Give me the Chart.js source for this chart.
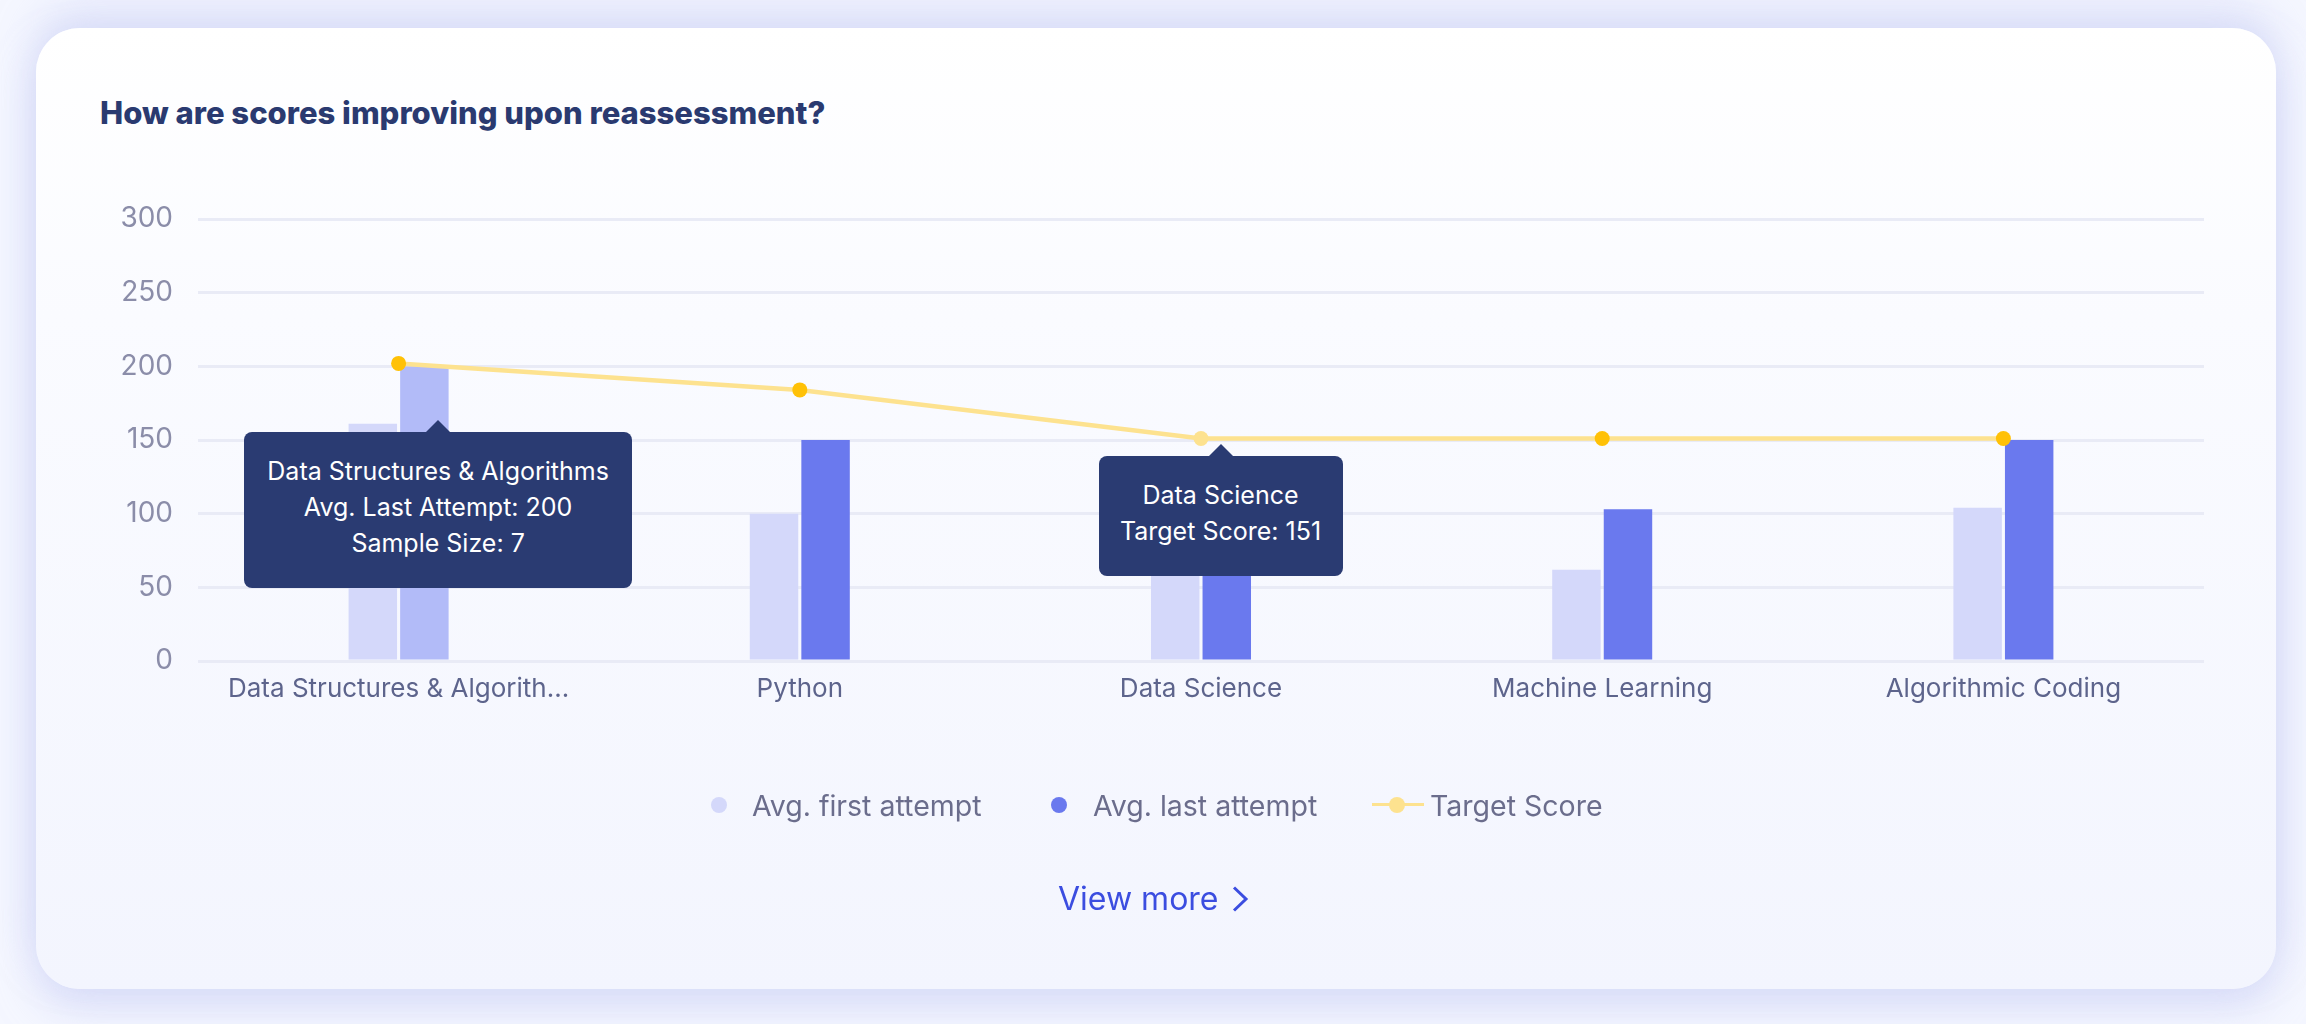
<!DOCTYPE html>
<html>
<head>
<meta charset="utf-8">
<title>How are scores improving upon reassessment?</title>
<script src="https://cdn.jsdelivr.net/npm/chart.js@4"></script>
<style>
  html, body { margin: 0; width: 2306px; height: 1024px; overflow: hidden; background: #f5f7ff; font-family: Inter, sans-serif; }
  #card { position: absolute; left: 36px; top: 28px; width: 2240px; height: 961px; border-radius: 44px;
    background: linear-gradient(180deg, #ffffff 0%, #fafbff 30%, #f3f5fe 100%);
    box-shadow: 0 -20px 40px 0 rgba(196, 202, 244, 0.5), 0 20px 40px 0 rgba(196, 202, 244, 0.55); }
  h1 { position: absolute; left: 100px; top: 91px; margin: 0; font-size: 31px; font-weight: 800; color: #2a3a70; line-height: 44px; }
  canvas { position: absolute; left: 0; top: 0; }
  .tip { position: absolute; background: #2a3b72; color: #fff; border-radius: 8px; font-size: 25px; line-height: 36px;
    text-align: center; box-sizing: border-box; white-space: nowrap; }
  .tip:before { content: ""; position: absolute; left: 50%; top: -12px; margin-left: -12px; width: 0; height: 0;
    border-left: 12px solid transparent; border-right: 12px solid transparent; border-bottom: 12px solid #2a3b72; }
  .legend-item { position: absolute; top: 787px; height: 38px; line-height: 38px; font-size: 28.5px; color: #6b6d8c; white-space: nowrap; }
  .legend-mark { position: absolute; width: 16px; height: 16px; border-radius: 50%; }
  .legend-line { position: absolute; height: 3px; }
  #more { position: absolute; left: 1058px; top: 877px; font-size: 32px; line-height: 44px; color: #3b4de0; }
  #chev { position: absolute; left: 1232px; top: 885px; }
</style>
</head>
<body>
<div id="card"></div>
<h1>How are scores improving upon reassessment?</h1>
<canvas id="scoresChart" width="2306" height="1024"></canvas>
<div id="more">View more</div>
<svg id="chev" width="18" height="28" viewBox="0 0 18 28"><path d="M2 2.5 L14 14 L2 25.5" fill="none" stroke="#3b4de0" stroke-width="3"/></svg>
<script>
const categories = ["Data Structures & Algorithms", "Python", "Data Science", "Machine Learning", "Algorithmic Coding"];
const firstAttempt = [161, 100, 100, 62, 104];
const lastAttempt = [200, 150, 115, 103, 150];
const targetScore = [202, 184, 151, 151, 151];
const yTickValues = [0, 50, 100, 150, 200, 250, 300];
const sampleSize = [7];

const tipBoxes = [
  { index: 0, value: lastAttempt[0], dx: 39.5, dy: 54, width: 388, height: 156,
    lines: [categories[0], "Avg. Last Attempt: " + lastAttempt[0], "Sample Size: " + sampleSize[0]] },
  { index: 2, value: targetScore[2], dx: 19.5, dy: 5, width: 244, height: 120,
    lines: [categories[2], "Target Score: " + targetScore[2]] }
];

const scoresChart = new Chart(document.getElementById("scoresChart"), {
  type: "bar",
  data: {
    labels: categories,
    datasets: [
      {
        label: "Avg. first attempt",
        data: firstAttempt,
        backgroundColor: "#d4d8fa",
        categoryPercentage: 0.257,
        barPercentage: 0.94,
        order: 2
      },
      {
        label: "Avg. last attempt",
        data: lastAttempt,
        backgroundColor: ctx => ctx.dataIndex === 0 ? "#b2bbf8" : "#6a79ee",
        categoryPercentage: 0.257,
        barPercentage: 0.94,
        order: 2
      },
      {
        type: "line",
        label: "Target Score",
        data: targetScore,
        borderColor: "#fde28f",
        borderWidth: 4.5,
        tension: 0,
        pointRadius: 7.5,
        pointHoverRadius: 7.5,
        pointBorderWidth: 0,
        pointBackgroundColor: ctx => ctx.dataIndex === 2 ? "#fde28f" : "#ffc107",
        order: 1
      }
    ]
  },
  options: {
    responsive: false,
    animation: false,
    layout: { padding: { left: 0, right: 102, top: 219, bottom: 303 } },
    plugins: { legend: { display: false }, tooltip: { enabled: false } },
    scales: {
      x: {
        afterFit: scale => { scale.height = 60; },
        grid: { display: false },
        border: { display: false },
        ticks: {
          padding: 5,
          maxRotation: 0,
          autoSkip: false,
          color: "#5d648c",
          font: { family: "Inter", size: 26 },
          callback: function (value) {
            const name = this.getLabelForValue(value);
            return name.length > 26 ? name.slice(0, 26) + "..." : name;
          }
        }
      },
      y: {
        min: 0,
        max: 300,
        afterFit: scale => { scale.width = 198; },
        afterBuildTicks: axis => { axis.ticks = yTickValues.map(value => ({ value })); },
        grid: { color: "#e9ebf6", lineWidth: 3, drawTicks: false },
        border: { display: false },
        ticks: {
          padding: 25,
          color: "#8b8da9",
          font: { family: "Inter", size: 28 }
        }
      }
    }
  }
});

// tooltips stay pinned open, chart.js only shows one at a time
tipBoxes.forEach(tip => {
  const box = document.createElement("div");
  box.className = "tip";
  const tipX = scoresChart.scales.x.getPixelForValue(tip.index) + tip.dx;
  const tipY = scoresChart.scales.y.getPixelForValue(tip.value) + tip.dy;
  box.style.left = (tipX - tip.width / 2) + "px";
  box.style.top = (tipY + 12) + "px";
  box.style.width = tip.width + "px";
  box.style.height = tip.height + "px";
  box.style.paddingTop = ((tip.height - tip.lines.length * 36) / 2 - 3) + "px";
  box.innerHTML = tip.lines.map(line => line.replace("&", "&amp;")).join("<br>");
  document.body.appendChild(box);
});

// html legend, the marks are spaced unevenly in the design
const legendX = [{ mark: 711, text: 752 }, { mark: 1051, text: 1093 }, { mark: 1389, text: 1430, line: [1372, 1424] }];
scoresChart.data.datasets.forEach((set, i) => {
  const pos = legendX[i];
  const item = document.createElement("div");
  item.className = "legend-item";
  item.style.left = pos.text + "px";
  item.textContent = set.label;
  document.body.appendChild(item);
  if (pos.line) {
    const line = document.createElement("div");
    line.className = "legend-line";
    line.style.top = "803px";
    line.style.left = pos.line[0] + "px";
    line.style.width = (pos.line[1] - pos.line[0]) + "px";
    line.style.background = "#fde28f";
    document.body.appendChild(line);
  }
  const mark = document.createElement("div");
  mark.className = "legend-mark";
  mark.style.top = "797px";
  mark.style.left = pos.mark + "px";
  mark.style.background = i === 0 ? "#d4d8fa" : i === 1 ? "#6a79ee" : "#fde28f";
  document.body.appendChild(mark);
});
</script>
</body>
</html>
